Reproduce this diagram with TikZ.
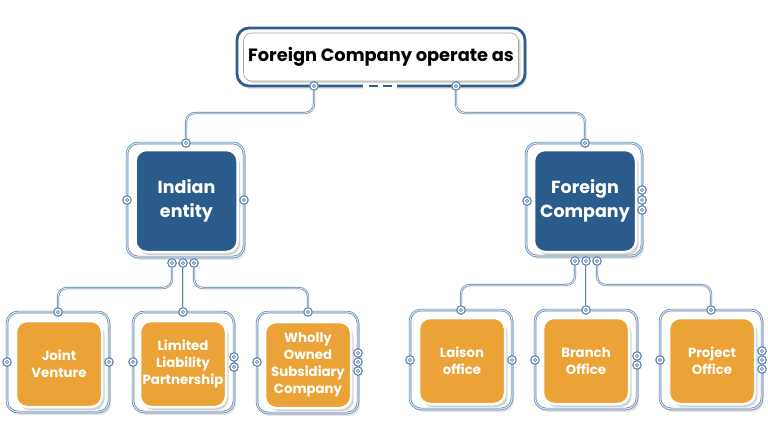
\documentclass[tikz,border=0pt]{standalone}
\usepackage{fontspec}
\setmainfont{Poppins}
\usetikzlibrary{shadows,calc}
\definecolor{frameblue}{HTML}{5A82AF}
\definecolor{topblue}{HTML}{2F5D8E}
\definecolor{darkblue}{HTML}{2B5B8B}
\definecolor{orangebox}{HTML}{EBA236}
\tikzset{
  frame/.style={draw=frameblue, line width=0.7pt, double=white!80!frameblue, double distance=1.1pt, rounded corners=11pt, fill=white,
     drop shadow={shadow xshift=2pt, shadow yshift=-3pt, opacity=0.2}},
  conn/.style={draw=frameblue, line width=0.6pt, double=white!80!frameblue, double distance=1pt, rounded corners=9pt},
  tile/.style={rounded corners=11pt, draw=white, line width=2.5pt, text=white, align=center,
     inner sep=0pt, drop shadow={shadow xshift=2.5pt, shadow yshift=-3pt, opacity=0.35}},
  bluetile/.style={tile, fill=darkblue, minimum width=102pt, minimum height=102pt,
     font=\fontsize{17.5}{24}\selectfont\bfseries},
  orangetile/.style={tile, fill=orangebox, minimum width=86pt, minimum height=86pt,
     font=\fontsize{13.3}{17}\selectfont\bfseries},
  port/.style={circle, draw=frameblue, line width=1.1pt, fill=white, minimum size=8.5pt, inner sep=0pt,
     path picture={\draw[frameblue, line width=0.7pt] (path picture bounding box.center) circle (1.6pt);}},
}
\begin{document}
\begin{tikzpicture}[x=1pt,y=-1pt]
\useasboundingbox (0,0) rectangle (768,432);
% ---------- top box ----------
\draw[topblue, line width=2.8pt, rounded corners=12pt, fill=white,
      drop shadow={shadow xshift=2pt, shadow yshift=-3pt, opacity=0.2}]
  (363,86) -| (237,28) -| (525,86) -- (397,86);
\fill[white] (363,84) rectangle (397,89);
\draw[topblue, line width=2.8pt] (369,86) -- (378,86);
\draw[topblue, line width=2.8pt] (383,86) -- (392,86);
\node[draw=gray!70, line width=0.6pt, fill=white, rounded corners=8pt,
      minimum width=275pt, minimum height=48pt, inner sep=0pt,
      drop shadow={shadow xshift=2pt, shadow yshift=-2pt, opacity=0.3},
      font=\fontsize{17.8}{20}\selectfont\bfseries] (top) at (381,57) {Foreign Company operate as};
% ---------- frames ----------
\draw[frame] (127,143) rectangle (244,257);
\draw[frame] (526,143) rectangle (642,256);
\draw[frame] (7,312) rectangle (109,412);
\draw[frame] (133,312) rectangle (234,412);
\draw[frame] (257,312) rectangle (358,413);
\draw[frame] (410,310) rectangle (512,409);
\draw[frame] (535,310) rectangle (637,409);
\draw[frame] (660,310) rectangle (762,409);
% ---------- tiles ----------
\node[bluetile] (ind) at (186.5,201) {Indian\\entity};
\node[bluetile] (fc) at (585,201) {Foreign\\Company};
\node[orangetile] (jv) at (59,364) {Joint\\Venture};
\node[orangetile] (llp) at (183,364) {Limited\\Liability\\Partnership};
\node[orangetile] (wos) at (308,365) {Wholly\\Owned\\Subsidiary\\Company};
\node[orangetile] (lo) at (462,361) {Laison\\office};
\node[orangetile] (bo) at (586,361) {Branch\\Office};
\node[orangetile] (po) at (712,361) {Project\\Office};
% ---------- ports ----------
\node[port] (topL) at (314,86) {};
\node[port] (topR) at (456,86) {};
% Indian entity
\node[port] (indT) at (186,143) {};
\node[port] at (127,200) {};
\node[port] at (244,200) {};
\node[port] (indB1) at (172,263) {};
\node[port] (indB2) at (183,263) {};
\node[port] (indB3) at (194,263) {};
% Foreign company
\node[port] (fcT) at (585,143) {};
\node[port] at (527,201) {};
\node[port] at (642,190) {};
\node[port] at (642,200) {};
\node[port] at (642,210) {};
\node[port] (fcB1) at (575,261) {};
\node[port] (fcB2) at (586,261) {};
\node[port] (fcB3) at (597,261) {};
% bottom row
\node[port] (jvT) at (58,312) {};
\node[port] at (7,362) {};
\node[port] at (109,362) {};
\node[port] (llpT) at (183,312) {};
\node[port] at (133,362) {};
\node[port] at (234,357) {};
\node[port] at (234,367) {};
\node[port] (wosT) at (308,312) {};
\node[port] at (257,362) {};
\node[port] at (358,353) {};
\node[port] at (358,362) {};
\node[port] at (358,371) {};
\node[port] (loT) at (461,310) {};
\node[port] at (410,360) {};
\node[port] at (512,360) {};
\node[port] (boT) at (586,310) {};
\node[port] at (535,360) {};
\node[port] at (637,356) {};
\node[port] at (637,365) {};
\node[port] (poT) at (711,310) {};
\node[port] at (660,360) {};
\node[port] at (762,351) {};
\node[port] at (762,360) {};
\node[port] at (762,369) {};
% ---------- connectors ----------
\draw[conn] (topL) -- ++(0,27) -| (indT);
\draw[conn] (topR) -- ++(0,27) -| (fcT);
\draw[conn] (indB1) -- ++(0,25) -| (jvT);
\draw[conn] (indB2) -- (llpT);
\draw[conn] (indB3) -- ++(0,25) -| (wosT);
\draw[conn] (fcB1) -- ++(0,24) -| (loT);
\draw[conn] (fcB2) -- (boT);
\draw[conn] (fcB3) -- ++(0,24) -| (poT);
\end{tikzpicture}
\end{document}
